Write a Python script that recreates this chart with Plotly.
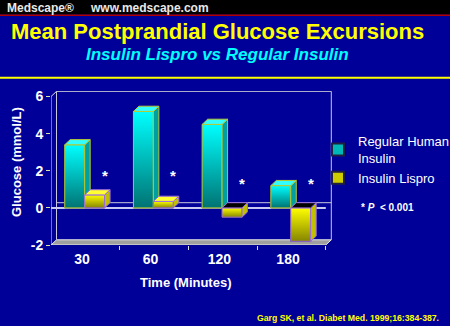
import plotly.graph_objects as go

# ---- data ----
categories = ["30", "60", "120", "180"]
regular = [3.4, 5.2, 4.5, 1.2]
lispro = [0.7, 0.35, -0.5, -1.8]
series_names = ["Regular Human<br>Insulin", "Insulin Lispro"]
y_ticks = [-2, 0, 2, 4, 6]

# ---- geometry / style ----
W_IMG, H_IMG = 450, 326
L, R, T, B = 51, 118, 91, 81
PW = W_IMG - L - R
PH = H_IMG - T - B
BOTTOM = H_IMG - B
XR = [-0.45, 3.64]
YR = [-2, 6.3]
DX, DY = 0.08, 0.28
BG = "#000099"
FONT = "Arial, Liberation Sans, sans-serif"


def PX(px):
    return (px - L) / PW


def PY(py):
    return (BOTTOM - py) / PH


fig = go.Figure()

bar_cfg = [
    dict(vals=regular, name=series_names[0], offset=-0.25, width=0.29,
         solid="#00B8B8", top="#33FFFF", side="#00A0A0",
         grad=[[0, "#007373"], [1, "#00FFFF"]], edge="#B8C830"),
    dict(vals=lispro, name=series_names[1], offset=0.04, width=0.29,
         solid="#CCCC00", top="#FFFF33", side="#C0C000",
         grad=[[0, "#858500"], [1, "#FFFF00"]], edge="#9A6AE0"),
]

# real bar traces (front faces, legend)
for c in bar_cfg:
    fig.add_trace(go.Bar(
        x=list(range(len(categories))), y=c["vals"], name=c["name"],
        offset=c["offset"], width=c["width"],
        marker=dict(color=c["solid"], line=dict(color="#202040", width=1)),
        showlegend=True,
    ))

# 3D faces derived from the data
for i in range(len(categories)):
    for c in bar_cfg:
        v = c["vals"][i]
        x0 = i + c["offset"]
        x1 = x0 + c["width"]
        # front with gradient
        fig.add_trace(go.Scatter(
            x=[x0, x1, x1, x0, x0], y=[0, 0, v, v, 0], mode="lines",
            fill="toself", fillgradient=dict(type="vertical", colorscale=c["grad"]),
            line=dict(color=c["edge"], width=1), hoverinfo="skip", showlegend=False))
        # side
        fig.add_trace(go.Scatter(
            x=[x1, x1 + DX, x1 + DX, x1, x1], y=[0, DY, v + DY, v, 0], mode="lines",
            fill="toself", fillcolor=c["side"],
            line=dict(color=c["edge"], width=1), hoverinfo="skip", showlegend=False))
        # top
        t = v if v > 0 else 0
        topcol = c["top"] if v > 0 else "#000000"
        fig.add_trace(go.Scatter(
            x=[x0, x1, x1 + DX, x0 + DX, x0], y=[t, t, t + DY, t + DY, t], mode="lines",
            fill="toself", fillcolor=topcol,
            line=dict(color=c["edge"], width=1), hoverinfo="skip", showlegend=False))

shapes = []
# header bands
shapes.append(dict(type="rect", xref="paper", yref="paper", x0=PX(0), x1=PX(450),
                   y0=PY(14.5), y1=PY(0), fillcolor="#000000", line=dict(width=0), layer="below"))
shapes.append(dict(type="rect", xref="paper", yref="paper", x0=PX(0), x1=PX(450),
                   y0=PY(16), y1=PY(14.5), fillcolor="#B00000", line=dict(width=0), layer="below"))
shapes.append(dict(type="rect", xref="paper", yref="paper", x0=PX(0), x1=PX(450),
                   y0=PY(78.7), y1=PY(76.7), fillcolor="#FFFF00", line=dict(width=0), layer="below"))

xf0, xf1 = XR[0], 3.55
xb0, xb1 = xf0 + DX, xf1 + DX
ytop = 6
panel = "#C8C8D8"
# floor slab
shapes.append(dict(type="path", xref="x", yref="y",
                   path=f"M {xf0},{-2} L {xf1},{-2} L {xb1},{-2+DY} L {xb0},{-2+DY} Z",
                   fillcolor="#A0A0A0", line=dict(color="#E8E8E8", width=1), layer="below"))
# back panel
shapes.append(dict(type="path", xref="x", yref="y",
                   path=f"M {xb0},{-2+DY} L {xb0},{ytop+DY} L {xb1},{ytop+DY} L {xb1},{-2+DY}",
                   line=dict(color=panel, width=1), layer="below"))
# front y axis line and top corner
shapes.append(dict(type="path", xref="x", yref="y",
                   path=f"M {xf0},{-2} L {xf0},{ytop} L {xb0},{ytop+DY}",
                   line=dict(color="#E0E0E0", width=1), layer="below"))
# zero plane lines
shapes.append(dict(type="line", xref="x", yref="y", x0=xb0, x1=xb1, y0=DY, y1=DY,
                   line=dict(color=panel, width=1), layer="below"))
shapes.append(dict(type="line", xref="x", yref="y", x0=xf0 - 0.03, x1=xf1, y0=0, y1=0,
                   line=dict(color="#C8C8F0", width=2), layer="below"))

ann = []
ann.append(dict(text="<b>Medscape®</b>", x=PX(5), y=PY(7.5), xanchor="left", yanchor="middle",
                font=dict(color="#E8E8E8", size=12, family=FONT)))
ann.append(dict(text="<b>www.medscape.com</b>", x=PX(88), y=PY(7.5), xanchor="left", yanchor="middle",
                font=dict(color="#E8E8E8", size=12, family=FONT)))
ann.append(dict(text="<b>Mean Postprandial Glucose Excursions</b>", x=PX(217.5), y=PY(31),
                xanchor="center", yanchor="middle", font=dict(color="#FFFF00", size=22, family=FONT)))
ann.append(dict(text="<b><i>Insulin Lispro vs Regular Insulin</i></b>", x=PX(217), y=PY(55),
                xanchor="center", yanchor="middle", font=dict(color="#00FFFF", size=17, family=FONT)))
ann.append(dict(text="<b>Glucose (mmol/L)</b>", x=PX(16), y=PY(162), textangle=-90,
                xanchor="center", yanchor="middle", font=dict(color="white", size=13, family=FONT)))
ann.append(dict(text="<b>Time (Minutes)</b>", x=PX(186), y=PY(282),
                xanchor="center", yanchor="middle", font=dict(color="white", size=13, family=FONT)))
ann.append(dict(text="<b>* <i>P</i>  < 0.001</b>", x=PX(359), y=PY(207),
                xanchor="left", yanchor="middle", font=dict(color="white", size=10, family=FONT)))
ann.append(dict(text="<b>Garg SK, et al. Diabet Med. 1999;16:384-387.</b>", x=PX(441), y=PY(318),
                xanchor="right", yanchor="middle", font=dict(color="#FFFF00", size=8.7, family=FONT)))
# significance asterisks
for i in range(len(categories)):
    ann.append(dict(text="<b>*</b>", xref="x", yref="y", x=i + 0.33, y=1.75 if i < 2 else 1.3,
                    xanchor="center", yanchor="middle", showarrow=False,
                    font=dict(color="white", size=15, family=FONT)))
for a in ann:
    a.setdefault("xref", "paper")
    a.setdefault("yref", "paper")
    a["showarrow"] = False

fig.update_layout(
    width=W_IMG, height=H_IMG,
    margin=dict(l=L, r=R, t=T, b=B, pad=0, autoexpand=False),
    paper_bgcolor=BG, plot_bgcolor="rgba(0,0,0,0)",
    font=dict(family=FONT, color="white"),
    barmode="overlay",
    shapes=shapes, annotations=ann,
    legend=dict(x=PX(318), y=PY(126), xanchor="left", yanchor="top",
                font=dict(color="white", size=13, family=FONT),
                bgcolor="rgba(0,0,0,0)", tracegroupgap=4, itemsizing="constant"),
    xaxis=dict(range=XR, showgrid=False, zeroline=False, showline=False,
               tickmode="array", tickvals=list(range(len(categories))),
               ticktext=[f"<b>{c}</b>" for c in categories], ticks="",
               ticklabelstandoff=4,
               tickfont=dict(size=14, color="white", family=FONT),
               minor=dict(tickmode="array", tickvals=[i + 0.55 for i in range(len(categories))],
                          ticks="outside", ticklen=4, tickcolor="#E0E0E0", showgrid=False),
               fixedrange=True),
    yaxis=dict(range=YR, showgrid=False, zeroline=False, showline=False,
               tickmode="array", tickvals=y_ticks, ticktext=[f"<b>{t}</b>" for t in y_ticks],
               ticks="outside", ticklen=4, tickcolor="#E0E0A0",
               tickfont=dict(size=14, color="white", family=FONT), fixedrange=True),
)

fig.write_html("out.html")
